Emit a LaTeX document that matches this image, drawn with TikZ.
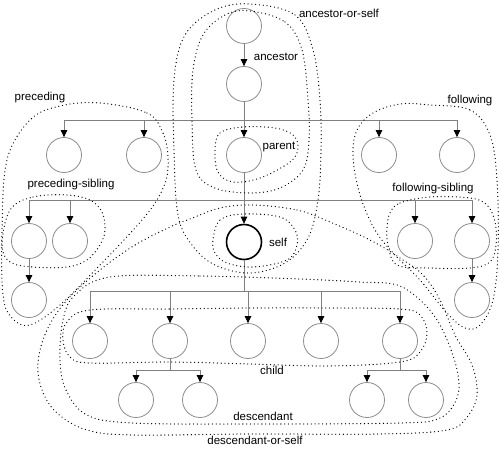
\documentclass[tikz,border=0pt]{standalone}
\usepackage{fontspec}
\setmainfont{Liberation Sans}
\usetikzlibrary{arrows.meta}
\begin{document}
\begin{tikzpicture}[x=1pt,y=-1pt,
  circ/.style={circle,draw=black!45,line width=0.8pt,minimum size=35pt,inner sep=0pt},
  selfcirc/.style={circle,draw=black,line width=1.6pt,minimum size=35pt,inner sep=0pt},
  conn/.style={draw=black!50,line width=0.7pt},
  arr/.style={conn,-{Triangle[width=6.5pt,length=7pt,color=black]}},
  region/.style={draw=black,line width=1.3pt,line cap=round,dash pattern=on 0pt off 3.8pt},
  lab/.style={font=\fontsize{11.5}{13}\selectfont,inner sep=0pt}]
\useasboundingbox (0,0) rectangle (500,449);
% nodes
\node[circ] (top) at (244,26) {};
\node[circ] (anc) at (244,84) {};
\node[circ] (par) at (244,155) {};
\node[selfcirc] (self) at (244,242) {};
\node[circ] (p1) at (64,155) {};
\node[circ] (p2) at (144,155) {};
\node[circ] (f1) at (379,155) {};
\node[circ] (f2) at (457,155) {};
\node[circ] (ps1) at (29,241) {};
\node[circ] (ps2) at (70,241) {};
\node[circ] (ps3) at (29,300) {};
\node[circ] (fs1) at (415,241) {};
\node[circ] (fs2) at (472,241) {};
\node[circ] (fs3) at (472,300) {};
\node[circ] (c1) at (90,341) {};
\node[circ] (c2) at (170,341) {};
\node[circ] (c3) at (248,341) {};
\node[circ] (c4) at (321,341) {};
\node[circ] (c5) at (400,341) {};
\node[circ] (g1) at (136,400) {};
\node[circ] (g2) at (200,400) {};
\node[circ] (g3) at (367,400) {};
\node[circ] (g4) at (426,400) {};
% bar coordinates
\coordinate (a1) at (64,120); \coordinate (a2) at (144,120);
\coordinate (a3) at (379,120); \coordinate (a4) at (457,120);
\coordinate (b1) at (29,200); \coordinate (b2) at (70,200);
\coordinate (b3) at (415,200); \coordinate (b4) at (472,200);
\coordinate (s0) at (244,291);
\coordinate (d1) at (90,291); \coordinate (d2) at (170,291);
\coordinate (d3) at (248,291); \coordinate (d4) at (321,291);
\coordinate (d5) at (400,291);
\coordinate (e0) at (170,370); \coordinate (e1) at (136,370); \coordinate (e2) at (200,370);
\coordinate (h0) at (400,370); \coordinate (h1) at (367,370); \coordinate (h2) at (426,370);
% connectors
\draw[arr] (top) -- (anc);
\draw[arr] (anc) -- (par);
\draw[arr] (par) -- (self);
\draw[conn] (a1) -- (a4);
\draw[arr] (a1) -- (p1); \draw[arr] (a2) -- (p2);
\draw[arr] (a3) -- (f1); \draw[arr] (a4) -- (f2);
\draw[conn] (b1) -- (b4);
\draw[arr] (b1) -- (ps1); \draw[arr] (b2) -- (ps2);
\draw[arr] (b3) -- (fs1); \draw[arr] (b4) -- (fs2);
\draw[arr] (ps1) -- (ps3);
\draw[arr] (fs2) -- (fs3);
\draw[conn] (self) -- (s0);
\draw[conn] (d1) -- (d5);
\draw[arr] (d1) -- (c1); \draw[arr] (d2) -- (c2); \draw[arr] (d3) -- (c3);
\draw[arr] (d4) -- (c4); \draw[arr] (d5) -- (c5);
\draw[conn] (c2) -- (e0); \draw[conn] (e1) -- (e2);
\draw[arr] (e1) -- (g1); \draw[arr] (e2) -- (g2);
\draw[conn] (c5) -- (h0); \draw[conn] (h1) -- (h2);
\draw[arr] (h1) -- (g3); \draw[arr] (h2) -- (g4);
% regions
\draw[region] plot[smooth cycle,tension=0.6] coordinates {(250,4) (295,15) (313,50) (320,100) (321,150) (318,200) (308,238) (285,263) (250,273) (215,265) (192,245) (178,215) (174,150) (174,80) (185,35) (215,10)};
\draw[region] plot[smooth cycle,tension=0.6] coordinates {(250,11) (285,22) (302,50) (308,100) (309,140) (303,170) (280,188) (250,193) (215,188) (196,170) (192,120) (193,70) (203,35) (225,15)};
\draw[region] plot[smooth cycle,tension=0.6] coordinates {(215,150) (220,133) (243,127) (275,128) (293,135) (298,148) (290,162) (260,178) (233,182) (218,172)};
\draw[region] plot[smooth cycle,tension=0.6] coordinates {(213,240) (220,220) (243,214) (280,217) (295,230) (297,245) (287,260) (253,267) (227,263) (215,253)};
\draw[region] plot[smooth cycle,tension=0.6] coordinates {(100,103) (147,113) (163,133) (168,157) (166,180) (155,203) (135,228) (100,265) (60,305) (30,325) (12,318) (3,295) (2,230) (7,160) (30,120) (60,106)};
\draw[region] plot[smooth cycle,tension=0.6] coordinates {(10,210) (33,197) (67,195) (90,200) (102,212) (105,230) (100,245) (87,260) (67,267) (33,267) (10,262) (2,245)};
\draw[region] plot[smooth cycle,tension=0.6] coordinates {(430,105) (470,110) (490,135) (497,180) (498,250) (493,300) (480,325) (465,328) (447,313) (420,280) (395,255) (375,230) (360,195) (353,157) (357,130) (373,113) (400,104)};
\draw[region] plot[smooth cycle,tension=0.6] coordinates {(390,213) (400,203) (430,197) (470,198) (487,205) (495,222) (496,245) (490,262) (470,268) (430,268) (397,265) (388,245) (387,228)};
\draw[region] plot[smooth cycle,tension=0.6] coordinates {(90,310) (170,309) (250,308) (330,308) (400,309) (420,315) (427,333) (420,352) (400,362) (330,366) (250,364) (170,362) (90,363) (70,357) (63,340) (67,322)};
\draw[region] plot[smooth cycle,tension=0.6] coordinates {(110,277) (200,276) (300,279) (360,282) (397,285) (420,300) (437,320) (450,347) (458,375) (457,398) (440,418) (400,423) (250,424) (133,423) (87,415) (66,390) (60,360) (63,320) (75,295)};
\draw[region] plot[smooth cycle,tension=0.6] coordinates {(253,205) (297,210) (330,222) (370,240) (400,258) (423,275) (440,300) (455,335) (472,365) (477,395) (467,417) (447,430) (380,434) (250,434) (133,435) (87,430) (57,413) (42,390) (38,362) (47,330) (67,300) (100,270) (135,245) (170,227) (190,219) (220,208)};
% labels
\node[lab] (l1) at (339,13) {ancestor-or-self};
\node[lab] (l2) at (276,57) {ancestor};
\node[lab] (l3) at (40,98) {preceding};
\node[lab] (l4) at (470,101) {following};
\node[lab] (l5) at (279,147) {parent};
\node[lab] (l6) at (71,185) {preceding-sibling};
\node[lab] (l7) at (433,189) {following-sibling};
\node[lab] (l8) at (278,242) {self};
\node[lab] (l9) at (272,370) {child};
\node[lab] (l10) at (263,416) {descendant};
\node[lab] (l11) at (255,440) {descendant-or-self};
\end{tikzpicture}
\end{document}
